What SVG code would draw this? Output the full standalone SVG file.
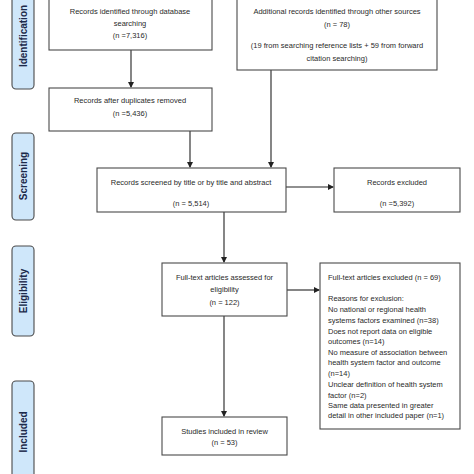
<svg xmlns="http://www.w3.org/2000/svg" width="474" height="474" viewBox="0 0 474 474">
<defs>
<style>
.box{fill:#fff;stroke:#4a4a4a;stroke-width:1.1}
.phase{fill:#cfe7fa;stroke:#4a4a4a;stroke-width:1.1}
.t{font-family:"Liberation Sans",Arial,sans-serif;font-size:7.5px;fill:#2a2a2a;text-anchor:middle}
.tl{font-family:"Liberation Sans",Arial,sans-serif;font-size:7.5px;fill:#2a2a2a}
.p{font-family:"Liberation Sans",Arial,sans-serif;font-size:10px;font-weight:bold;fill:#1c2a4a;text-anchor:middle}
.c{stroke:#222;stroke-width:1.1;fill:none}
</style>
<marker id="ah" markerWidth="6" markerHeight="6" refX="5" refY="3" orient="auto" markerUnits="userSpaceOnUse">
<path d="M0,0 L6,3 L0,6 Z" fill="#222"/>
</marker>
</defs>
<rect width="474" height="474" fill="#fff"/>
<g id="phase-identification"><rect class="phase" x="12" y="-20" width="22" height="109" rx="4"/><text class="p" transform="translate(26.5,36) rotate(-90)">Identification</text></g>
<g id="phase-screening"><rect class="phase" x="12" y="133" width="22" height="87" rx="4"/><text class="p" transform="translate(26.5,176) rotate(-90)">Screening</text></g>
<g id="phase-eligibility"><rect class="phase" x="12" y="246" width="22" height="90" rx="4"/><text class="p" transform="translate(26.5,291) rotate(-90)">Eligibility</text></g>
<g id="phase-included"><rect class="phase" x="12" y="381" width="22" height="110" rx="4"/><text class="p" transform="translate(26.5,432) rotate(-90)">Included</text></g>
<g id="connectors">
<line class="c" x1="131" y1="50" x2="131" y2="87" marker-end="url(#ah)"/>
<line class="c" x1="271" y1="70" x2="271" y2="167" marker-end="url(#ah)"/>
<line class="c" x1="190" y1="131" x2="190" y2="167" marker-end="url(#ah)"/>
<line class="c" x1="286" y1="187" x2="333" y2="187" marker-end="url(#ah)"/>
<line class="c" x1="224" y1="212" x2="224" y2="262" marker-end="url(#ah)"/>
<line class="c" x1="287" y1="290" x2="319" y2="290" marker-end="url(#ah)"/>
<line class="c" x1="224" y1="316" x2="224" y2="416" marker-end="url(#ah)"/>
</g>
<g id="db-records"><rect class="box" x="49" y="-10" width="163" height="60"/>
<text class="t" x="130" y="13.5">Records identified through database</text>
<text class="t" x="130" y="25.5">searching</text>
<text class="t" x="130" y="37.5">(n =7,316)</text></g>
<g id="other-records"><rect class="box" x="237" y="-10" width="200" height="80"/>
<text class="t" x="337" y="13.5">Additional records identified through other sources</text>
<text class="t" x="337" y="26.5">(n = 78)</text>
<text class="t" x="337" y="47.5">(19 from searching reference lists + 59 from forward</text>
<text class="t" x="337" y="60.5">citation searching)</text></g>
<g id="dedup"><rect class="box" x="49" y="88" width="163" height="43"/>
<text class="t" x="130" y="102.5">Records after duplicates removed</text>
<text class="t" x="130" y="115.5">(n =5,436)</text></g>
<g id="screened"><rect class="box" x="97" y="168" width="189" height="44"/>
<text class="t" x="191" y="184.5">Records screened by title or by title and abstract</text>
<text class="t" x="191" y="205.5">(n = 5,514)</text></g>
<g id="excluded"><rect class="box" x="334" y="168" width="126" height="44"/>
<text class="t" x="397" y="184.5">Records excluded</text>
<text class="t" x="397" y="205.5">(n =5,392)</text></g>
<g id="fulltext"><rect class="box" x="162" y="263" width="125" height="53"/>
<text class="t" x="224.5" y="279.5">Full-text articles assessed for</text>
<text class="t" x="224.5" y="291.5">eligibility</text>
<text class="t" x="224.5" y="304.5">(n = 122)</text></g>
<g id="ft-excluded"><rect class="box" x="320" y="263" width="140" height="166"/>
<text class="tl" x="328" y="279.5">Full-text articles excluded (n = 69)</text>
<text class="tl" x="328" y="300.5">Reasons for exclusion:</text>
<text class="tl" x="328" y="311.5">No national or regional health</text>
<text class="tl" x="328" y="322.5">systems factors examined (n=38)</text>
<text class="tl" x="328" y="333.5">Does not report data on eligible</text>
<text class="tl" x="328" y="343.5">outcomes (n=14)</text>
<text class="tl" x="328" y="354.5">No measure of association between</text>
<text class="tl" x="328" y="364.5">health system factor and outcome</text>
<text class="tl" x="328" y="375.5">(n=14)</text>
<text class="tl" x="328" y="386.5">Unclear definition of health system</text>
<text class="tl" x="328" y="397.5">factor (n=2)</text>
<text class="tl" x="328" y="407.5">Same data presented in greater</text>
<text class="tl" x="328" y="417.5">detail in other included paper (n=1)</text></g>
<g id="included"><rect class="box" x="162" y="417" width="125" height="38"/>
<text class="t" x="224.5" y="433.5">Studies included in review</text>
<text class="t" x="224.5" y="444.5">(n = 53)</text></g>
</svg>
